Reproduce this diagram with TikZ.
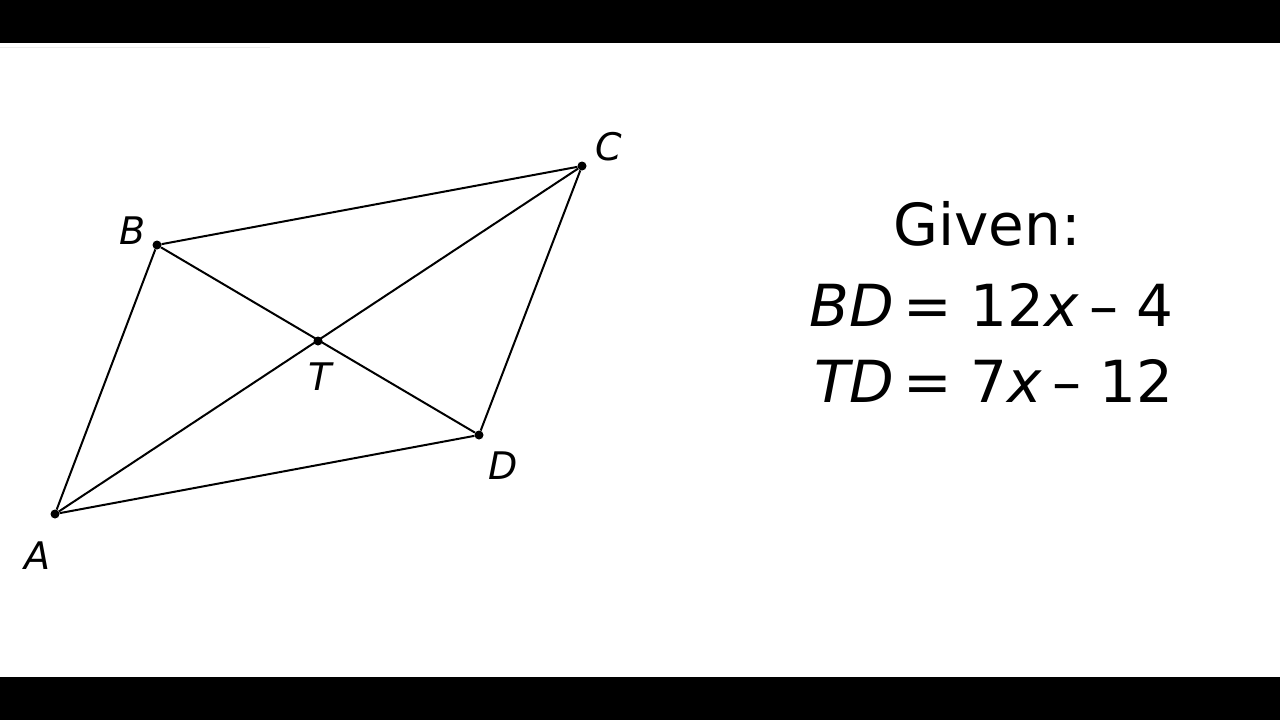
\documentclass[tikz,border=0pt]{standalone}
\usepackage{fontspec}
\setmainfont{DejaVu Sans}
\begin{document}
\begin{tikzpicture}[x=1pt,y=-1pt,
  pt/.style={circle,fill=black,inner sep=0pt,minimum size=9pt},
  lbl/.style={font=\fontsize{38}{40}\selectfont\itshape},
  eq/.style={font=\fontsize{58}{66}\selectfont}]
\useasboundingbox (0,0) rectangle (1280,720);
\fill[white] (0,0) rectangle (1280,720);
\fill[black] (0,0) rectangle (1280,43);
\fill[black] (0,677) rectangle (1280,720);
\draw[black!8,line width=1pt] (0,47) -- (270,47);
\node[pt] (A) at (55,514) {};
\node[pt] (B) at (157,245) {};
\node[pt] (C) at (582,166) {};
\node[pt] (D) at (479,435) {};
\node[pt] (T) at (318,341) {};
\draw[line width=2pt] (A) -- (B) -- (C) -- (D) -- (A);
\draw[line width=2pt] (A) -- (C);
\draw[line width=2pt] (B) -- (D);
\node[lbl] (lA) at (37,556) {A};
\node[lbl] (lB) at (133,231) {B};
\node[lbl] (lC) at (609,147) {C};
\node[lbl] (lD) at (503,466) {D};
\node[lbl] (lT) at (320,377) {T};
\node[eq] (g) at (987,224) {Given:};
\node[eq,anchor=east] (e1) at (1177,305) {\textit{BD}\,= 12\textit{x}\,– 4};
\node[eq,anchor=east] (e2) at (1177,381) {\textit{TD}\,= 7\textit{x}\,– 12};
\end{tikzpicture}
\end{document}
